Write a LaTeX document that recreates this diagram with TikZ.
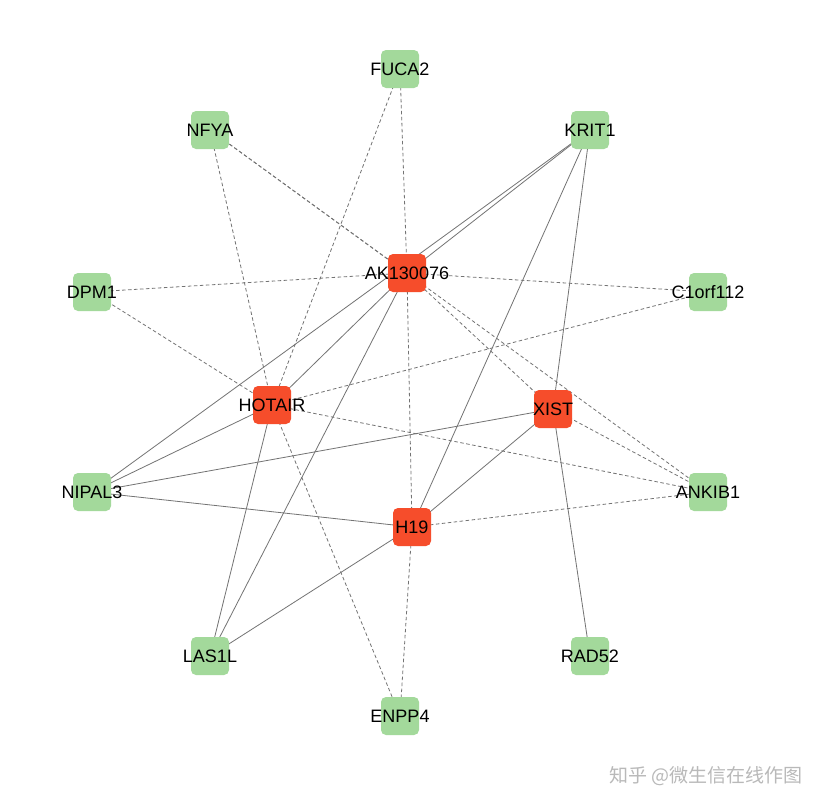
\documentclass[tikz,border=0pt]{standalone}
\usepackage{fontspec}
\setmainfont{Liberation Sans}
\newfontfamily\cjk{Noto Sans CJK SC}
\begin{document}
\begin{tikzpicture}[x=1pt,y=-1pt,
 gn/.style={rectangle,rounded corners=5pt,fill=gfill,minimum size=38pt,inner sep=0pt},
 rn/.style={gn,fill=rfill},
 lab/.style={inner sep=0pt,font=\fontsize{18}{18}\selectfont},
 sol/.style={draw=gray!90!black,line width=0.8pt},
 das/.style={sol,dash pattern=on 3.5pt off 2.5pt}]
\definecolor{gfill}{HTML}{A3D99B}
\definecolor{rfill}{HTML}{F64D2B}
\useasboundingbox (0,0) rectangle (823,811);
\fill[white] (0,0) rectangle (823,811);
\coordinate (FUCA2) at (400,69); \coordinate (NFYA) at (210,130);
\coordinate (KRIT1) at (590,130); \coordinate (AK) at (407,273);
\coordinate (DPM1) at (92,292); \coordinate (C1) at (708,292);
\coordinate (HOTAIR) at (272,405); \coordinate (XIST) at (553,409);
\coordinate (NIPAL3) at (92,492); \coordinate (ANKIB1) at (708,492);
\coordinate (H19) at (412,527); \coordinate (LAS1L) at (210,656);
\coordinate (RAD52) at (590,656); \coordinate (ENPP4) at (400,716);
\foreach \a/\b in {FUCA2/AK,FUCA2/HOTAIR,NFYA/HOTAIR,NFYA/AK,NFYA/ANKIB1,AK/DPM1,AK/C1,AK/XIST,AK/H19,DPM1/HOTAIR,C1/HOTAIR,HOTAIR/ENPP4,HOTAIR/ANKIB1,XIST/ANKIB1,H19/ANKIB1,H19/ENPP4}
  \draw[das] (\a) -- (\b);
\foreach \a/\b in {KRIT1/AK,KRIT1/NIPAL3,KRIT1/XIST,KRIT1/H19,AK/HOTAIR,AK/LAS1L,HOTAIR/NIPAL3,HOTAIR/LAS1L,XIST/NIPAL3,XIST/H19,XIST/RAD52,NIPAL3/H19,H19/LAS1L}
  \draw[sol] (\a) -- (\b);
\foreach \c/\t in {FUCA2/FUCA2,NFYA/NFYA,KRIT1/KRIT1,DPM1/DPM1,C1/C1orf112,NIPAL3/NIPAL3,ANKIB1/ANKIB1,LAS1L/LAS1L,RAD52/RAD52,ENPP4/ENPP4}{
  \node[gn] (b\c) at (\c) {};
  \node[lab] (t\c) at (\c) {\t};}
\foreach \c/\t in {AK/AK130076,HOTAIR/HOTAIR,XIST/XIST,H19/H19}{
  \node[rn] (b\c) at (\c) {};
  \node[lab] (t\c) at (\c) {\t};}
\node[text=gray!55,font=\cjk\fontsize{19}{19}\selectfont] (wm) at (706,776) {知乎 @微生信在线作图};
\end{tikzpicture}
\end{document}
